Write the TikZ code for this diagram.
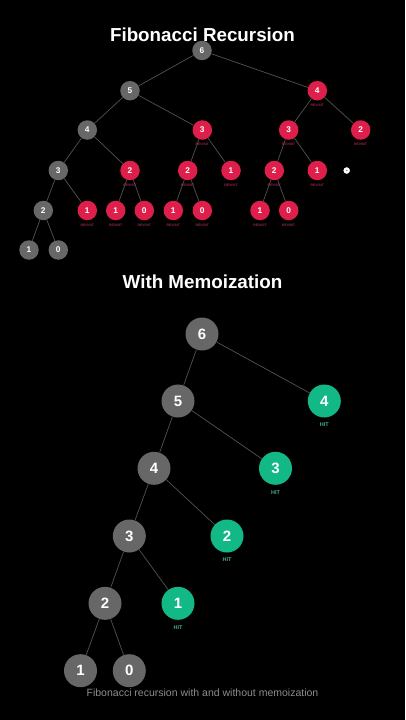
\documentclass[tikz,border=0pt]{standalone}
\usepackage{fontspec}
\setmainfont{Liberation Sans}
\usetikzlibrary{positioning}
\definecolor{nodegray}{HTML}{676767}
\definecolor{revred}{HTML}{DF1F4B}
\definecolor{revtext}{HTML}{9A2A44}
\definecolor{hitgreen}{HTML}{12B886}
\definecolor{hittext}{HTML}{4FA887}
\definecolor{edgegray}{HTML}{525252}
\definecolor{captiongray}{HTML}{8C8C8C}

\tikzset{
  callnode/.style={circle, minimum size=19.5pt, inner sep=0pt, text=white,
    font=\bfseries\fontsize{8.3}{8.3}\selectfont},
  memonode/.style={circle, minimum size=33pt, inner sep=0pt, text=white,
    font=\bfseries\fontsize{15}{15}\selectfont},
  computed/.style={fill=nodegray},
  revisit/.style={fill=revred, label={[revlabel]below:REVISIT}},
  cachehit/.style={fill=hitgreen, label={[hitlabel]below:HIT}},
  revlabel/.style={inner sep=0pt, label distance=3pt, text=revtext,
    font=\bfseries\fontsize{3.4}{3.4}\selectfont},
  hitlabel/.style={inner sep=0pt, label distance=5.3pt, text=hittext,
    font=\bfseries\fontsize{5.5}{5.5}\selectfont},
  edge/.style={draw=edgegray, line width=0.7pt},
  heading/.style={text=white, font=\bfseries\fontsize{18.8}{20}\selectfont}
}

\begin{document}
\begin{tikzpicture}[x=1pt, y=-1pt]
\fill[black] (0,0) rectangle (405,720);

% naive recursion
\node[heading] (title1) at (202.5,35) {Fibonacci Recursion};

\node[callnode, computed] (a6) at (202,50.5) {6};
\node[callnode, computed] (a5) at (130,90.7) {5};
\node[callnode, revisit] (a4r) at (317.3,90.7) {4};
\node[callnode, computed] (a4) at (87.3,130) {4};
\node[callnode, revisit] (a3r) at (202.3,130) {3};
\node[callnode, revisit] (b3r) at (288.7,130) {3};
\node[callnode, revisit] (b2r) at (360.7,130) {2};
\node[callnode, computed] (a3) at (58.3,170.5) {3};
\node[callnode, revisit] (a2r) at (130,170.5) {2};
\node[callnode, revisit] (c2r) at (187.7,170.5) {2};
\node[callnode, revisit] (c1r) at (231,170.5) {1};
\node[callnode, revisit] (d2r) at (274.3,170.5) {2};
\node[callnode, revisit] (d1r) at (317.3,170.5) {1};
\node[circle, fill=white, draw=white, minimum size=6pt, inner sep=0pt] (dot) at (346.7,170.5) {};
\fill[black!45] (dot) circle (0.9pt);
\node[callnode, computed] (a2) at (43.3,210.5) {2};
\node[callnode, revisit] (a1r) at (87.3,210.5) {1};
\node[callnode, revisit] (e1r) at (115.7,210.5) {1};
\node[callnode, revisit] (e0r) at (144.3,210.5) {0};
\node[callnode, revisit] (f1r) at (173.3,210.5) {1};
\node[callnode, revisit] (f0r) at (202.3,210.5) {0};
\node[callnode, revisit] (g1r) at (260,210.5) {1};
\node[callnode, revisit] (g0r) at (288.7,210.5) {0};
\node[callnode, computed] (a1) at (29,250) {1};
\node[callnode, computed] (a0) at (58.3,250) {0};

\draw[edge] (a6) -- (a5);
\draw[edge] (a6) -- (a4r);
\draw[edge] (a5) -- (a4);
\draw[edge] (a5) -- (a3r);
\draw[edge] (a4r) -- (b3r);
\draw[edge] (a4r) -- (b2r);
\draw[edge] (a4) -- (a3);
\draw[edge] (a4) -- (a2r);
\draw[edge] (a3r) -- (c2r);
\draw[edge] (a3r) -- (c1r);
\draw[edge] (b3r) -- (d2r);
\draw[edge] (b3r) -- (d1r);
\draw[edge] (a3) -- (a2);
\draw[edge] (a3) -- (a1r);
\draw[edge] (a2r) -- (e1r);
\draw[edge] (a2r) -- (e0r);
\draw[edge] (c2r) -- (f1r);
\draw[edge] (c2r) -- (f0r);
\draw[edge] (d2r) -- (g1r);
\draw[edge] (d2r) -- (g0r);
\draw[edge] (a2) -- (a1);
\draw[edge] (a2) -- (a0);

% memoized recursion
\node[heading] (title2) at (202.5,282) {With Memoization};

\node[memonode, computed] (m6) at (202,334) {6};
\node[memonode, computed] (m5) at (178,401) {5};
\node[memonode, cachehit] (h4) at (324.3,401) {4};
\node[memonode, computed] (m4) at (154,468.3) {4};
\node[memonode, cachehit] (h3) at (275.5,468.3) {3};
\node[memonode, computed] (m3) at (129.3,536) {3};
\node[memonode, cachehit] (h2) at (227,536) {2};
\node[memonode, computed] (m2) at (105,603.3) {2};
\node[memonode, cachehit] (h1) at (178,603.3) {1};
\node[memonode, computed] (m1) at (80.5,670.7) {1};
\node[memonode, computed] (m0) at (129.3,670.7) {0};

\draw[edge] (m6) -- (m5);
\draw[edge] (m6) -- (h4);
\draw[edge] (m5) -- (m4);
\draw[edge] (m5) -- (h3);
\draw[edge] (m4) -- (m3);
\draw[edge] (m4) -- (h2);
\draw[edge] (m3) -- (m2);
\draw[edge] (m3) -- (h1);
\draw[edge] (m2) -- (m1);
\draw[edge] (m2) -- (m0);

\node[text=captiongray, font=\fontsize{10.5}{12}\selectfont] (caption) at (202.5,693) {Fibonacci recursion with and without memoization};
\end{tikzpicture}
\end{document}
